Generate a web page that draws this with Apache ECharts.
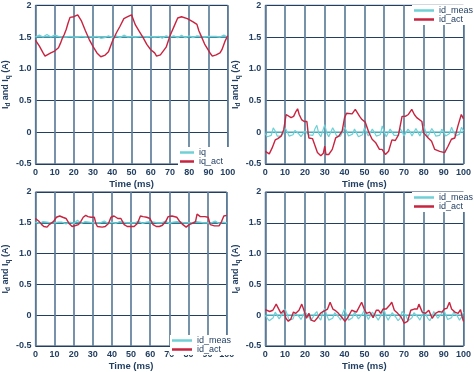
<!DOCTYPE html>
<html><head><meta charset="utf-8">
<script src="https://cdn.jsdelivr.net/npm/echarts@6/dist/echarts.min.js"></script>
<style>html,body{margin:0;padding:0;background:#fff}#c{width:474px;height:372px}</style>
</head><body><div id="c"></div>
<script>
// ---------- data ----------
const xTicks = [0,10,20,30,40,50,60,70,80,90,100];
const yTickLabels = {"-0.5":"-0.5","0":"0","0.5":"0.5","1":"1.0","1.5":"1.5","2":"2"};
const setpoints = [1.5, 0, 1.5, 0];
const legendNames = [["iq","iq_act"],["id_meas","id_act"],["id_meas","id_act"],["id_meas","id_act"]];

// panel 1 : iq (1 ms steps) and iq_act
const p1Meas = [
1.50,1.51,1.53,1.52,1.50,1.53,1.54,1.52,1.50,1.51,
1.53,1.53,1.51,1.49,1.50,1.52,1.50,1.49,1.51,1.52,
1.50,1.48,1.50,1.52,1.51,1.49,1.50,1.52,1.51,1.49,
1.50,1.52,1.51,1.49,1.48,1.47,1.49,1.51,1.52,1.50,
1.49,1.51,1.52,1.50,1.49,1.51,1.53,1.52,1.50,1.49,
1.51,1.52,1.50,1.49,1.51,1.53,1.51,1.49,1.50,1.52,
1.51,1.49,1.50,1.52,1.51,1.49,1.48,1.50,1.52,1.51,
1.50,1.51,1.52,1.50,1.49,1.51,1.53,1.51,1.49,1.50,
1.52,1.51,1.49,1.50,1.52,1.53,1.51,1.49,1.50,1.52,
1.51,1.50,1.51,1.53,1.51,1.49,1.50,1.52,1.53,1.51,
1.50];
const p1ActT = [0,2,4,5,6,8,10,12,13,14,15,16,17,18,19,20,21,22,23,24,26,28,30,32,34,35,36,37,38,40,42,44,46,48,50,51,52,54,56,58,60,61,62,63,64,65,66,68,70,72,74,75,76,79,82,84,85,86,88,90,91,92,93,94,96,97,98.7,100];
const p1ActV = [1.45,1.36,1.25,1.20,1.21,1.25,1.28,1.33,1.40,1.48,1.54,1.62,1.72,1.81,1.84,1.82,1.82,1.85,1.83,1.75,1.60,1.46,1.35,1.25,1.19,1.19,1.21,1.22,1.27,1.43,1.56,1.67,1.79,1.82,1.85,1.77,1.69,1.59,1.49,1.38,1.30,1.29,1.25,1.20,1.20,1.22,1.24,1.34,1.52,1.66,1.80,1.82,1.82,1.79,1.74,1.70,1.60,1.53,1.39,1.29,1.24,1.20,1.21,1.22,1.25,1.30,1.44,1.52];

// panel 2 : id_meas (1 ms steps) and id_act
const p2Meas = [
-0.02,-0.07,-0.08,-0.05,0.07,0.02,-0.06,-0.07,-0.06,-0.02,
0.07,0.01,-0.06,-0.07,-0.04,0.03,0.04,-0.03,-0.07,-0.06,
0.02,0.03,-0.04,-0.07,-0.05,0.05,0.11,-0.02,-0.07,-0.06,
0.12,-0.01,-0.07,-0.06,0.07,0.01,-0.06,-0.07,-0.06,-0.03,
0.08,0.02,-0.06,-0.07,-0.03,0.05,-0.01,-0.07,-0.07,-0.04,
0.07,0.00,-0.06,-0.06,0.05,0.00,-0.06,-0.07,-0.04,0.10,
0.01,-0.07,-0.06,0.05,0.02,-0.05,-0.07,-0.05,0.06,0.01,
-0.06,-0.07,0.05,0.01,-0.06,-0.07,0.06,0.00,-0.06,-0.05,
0.10,0.00,-0.07,-0.06,0.06,0.01,-0.06,-0.07,-0.05,0.05,
0.01,-0.06,-0.07,-0.02,0.08,0.00,-0.06,-0.07,-0.03,0.08,
0.02];
const p2ActT = [0,2,3,3.4,4.3,5,6.3,8,9.3,10.5,11.3,13,14.3,15.5,16.3,17.1,18.3,19.6,21,21.6,22,23.8,24.6,26.3,28,29.3,30,30.6,32,33.8,35.5,37.1,38.8,40,41,42,43.8,45.4,46.3,47.6,48.8,50.4,51.4,52.2,53.9,55.6,57.6,58.9,60.6,62.2,63.9,65.6,67.2,69,70.6,72.2,73.9,75.2,76.4,79,79.9,82.2,83.9,85.5,88,90.5,92.2,93.9,95.6,97.2,98.9,100];
const p2ActV = [-0.30,-0.34,-0.36,-0.25,-0.22,-0.12,-0.10,-0.06,0.04,0.28,0.28,0.23,0.25,0.33,0.37,0.28,0.20,0.17,0.17,-0.01,-0.09,-0.10,-0.17,-0.32,-0.37,-0.33,-0.22,-0.35,-0.35,-0.27,-0.09,-0.06,0.02,0.23,0.30,0.28,0.29,0.36,0.36,0.25,0.20,0.16,0.15,0.00,-0.11,-0.16,-0.27,-0.27,-0.35,-0.30,-0.12,-0.13,-0.04,0.25,0.25,0.28,0.36,0.28,0.23,0.17,-0.01,-0.09,-0.14,-0.27,-0.30,-0.32,-0.22,-0.11,-0.09,0.10,0.28,0.21];

// panel 3 : id_meas (1 ms steps) and id_act
const p3Meas = [
1.51,1.50,1.49,1.50,1.52,1.53,1.51,1.49,1.50,1.51,
1.50,1.49,1.51,1.53,1.51,1.49,1.48,1.50,1.51,1.50,
1.49,1.52,1.54,1.51,1.49,1.50,1.52,1.54,1.51,1.49,
1.50,1.51,1.50,1.49,1.50,1.52,1.53,1.51,1.49,1.50,
1.51,1.50,1.49,1.50,1.52,1.53,1.51,1.49,1.50,1.51,
1.50,1.49,1.50,1.52,1.53,1.51,1.49,1.50,1.51,1.50,
1.52,1.53,1.51,1.49,1.50,1.51,1.50,1.52,1.53,1.51,
1.49,1.50,1.51,1.50,1.52,1.53,1.51,1.49,1.50,1.51,
1.50,1.49,1.50,1.51,1.52,1.53,1.51,1.49,1.50,1.51,
1.50,1.49,1.50,1.52,1.53,1.51,1.49,1.50,1.51,1.50,
1.50];
const p3ActT = [0,2,3.3,4.4,5.3,6.1,7.2,8.2,9.4,11,12.7,14.3,16,17.6,19.2,20.1,21.4,22.5,23.7,25,26.3,27.5,29.1,30.8,31.6,32.4,34.9,36.5,38.2,39.5,41.1,43.1,44.7,46.4,48,49.7,51.6,53.3,54.9,56.3,58.2,59.9,61.5,63.2,64.8,66.4,68.1,69.4,71.4,72.4,73.9,75.5,77.1,78.8,80.4,82,83.7,84.5,86.2,88.6,90.3,91.4,93.6,96,97.3,98.5,100];
const p3ActV = [1.57,1.52,1.47,1.44,1.46,1.43,1.47,1.44,1.52,1.59,1.61,1.59,1.57,1.49,1.44,1.43,1.46,1.47,1.52,1.59,1.62,1.60,1.59,1.59,1.49,1.44,1.43,1.44,1.49,1.59,1.61,1.57,1.57,1.47,1.44,1.44,1.44,1.49,1.61,1.60,1.59,1.57,1.47,1.44,1.44,1.46,1.52,1.60,1.61,1.62,1.59,1.52,1.47,1.43,1.47,1.49,1.52,1.64,1.60,1.60,1.59,1.47,1.45,1.45,1.52,1.61,1.62];

// panel 4 : id_meas (1 ms steps) and id_act
const p4Meas = [
0.00,-0.05,-0.09,-0.10,-0.04,0.05,0.02,-0.06,-0.05,0.04,
0.10,0.02,-0.08,-0.10,-0.06,0.03,0.05,-0.02,-0.07,-0.04,
0.06,0.08,-0.03,-0.09,-0.07,0.02,0.06,-0.04,-0.08,0.05,
0.11,0.00,-0.08,-0.09,-0.05,0.04,0.06,-0.03,-0.08,0.03,
0.10,0.01,-0.08,-0.09,-0.04,0.05,0.03,-0.06,-0.07,0.02,
0.09,0.00,-0.07,-0.09,0.05,0.07,-0.03,-0.08,-0.06,0.04,
0.08,-0.02,-0.08,-0.07,0.04,0.06,-0.04,-0.09,-0.05,0.06,
0.09,-0.01,-0.09,-0.10,-0.04,0.04,0.06,-0.03,-0.08,-0.05,
0.07,0.05,-0.05,-0.09,-0.03,0.06,0.04,-0.05,-0.08,0.03,
0.09,0.01,-0.07,-0.09,-0.04,0.05,0.06,-0.02,-0.08,-0.03,
0.05];
const p4ActT = [0,2.2,3.8,5.5,6.6,7.9,9.3,10.4,11.6,12.9,14.2,15.4,17,18.4,19.5,20.8,22,23.2,24.8,26.1,27.8,29.1,30.3,31.4,32.7,34.1,35.2,36.9,38.5,40.2,41.8,43.6,44.6,46,47,48.6,49.9,51.1,52.7,54.4,56,57.2,58.2,59.4,61,62.7,63.8,65.1,66.8,68.5,70.1,71.8,73.4,75.1,76.7,77.5,79.2,80.9,82.5,84.2,85.9,87.5,89.2,90.3,91.6,92.9,94,95.7,97.3,98.5,99.5,100];
const p4ActV = [0.09,0.06,0.08,0.18,0.11,0.03,0.08,-0.05,-0.10,-0.06,0.05,0.03,0.08,0.18,0.08,-0.05,0.03,-0.08,-0.10,-0.05,0.03,0.06,0.08,0.10,0.21,0.10,0.08,0.03,-0.03,-0.10,-0.03,0.08,0.11,0.05,0.11,0.21,0.10,0.03,0.05,-0.04,0.08,0.08,0.03,0.10,0.10,0.16,0.21,0.08,0.03,-0.03,-0.13,-0.10,0.08,0.10,0.10,0.18,0.05,0.03,0.08,-0.05,0.03,0.06,0.05,0.10,0.11,0.21,0.10,0.05,0.03,0.09,-0.05,-0.10];

// ---------- chart ----------
const meas = [p1Meas, p2Meas, p3Meas, p4Meas];
const actT = [p1ActT, p2ActT, p3ActT, p4ActT];
const actV = [p1ActV, p2ActV, p3ActV, p4ActV];

const NAVY = '#223f62';
const VGRID = '#5f7f9b';
const CYAN = '#6fd0d6';
const REF = '#49a9b8';
const RED = '#c8233f';
const FONT = 'Liberation Sans, Arial, sans-serif';

const grids = [
  {left:25.7, right:246.3, top:5.3, bottom:208},
  {left:265.3, right:8.3, top:5.3, bottom:208},
  {left:24, right:247.3, top:192, bottom:20.3},
  {left:265.3, right:7, top:192, bottom:20}
];
const legendPos = [
  {left:178, top:147, w:14},
  {left:412, top:5, w:20},
  {left:170, top:335, w:20},
  {left:412, top:192, w:20}
];

const option = {
  animation:false,
  backgroundColor:'#fff',
  grid: grids.map(g => Object.assign({show:true, borderColor:NAVY, borderWidth:1, backgroundColor:'transparent'}, g)),
  xAxis: grids.map((g,i) => ({
    type:'value', gridIndex:i, min:xTicks[0], max:xTicks[xTicks.length-1], interval:10,
    name:'Time (ms)', nameLocation:'middle', nameGap:15,
    nameTextStyle:{fontFamily:FONT, fontSize:9.5, fontWeight:'bold', color:NAVY},
    axisLine:{show:false}, axisTick:{show:false},
    axisLabel:{fontFamily:FONT, fontSize:9, fontWeight:'bold', color:NAVY, margin:4},
    splitLine:{show:true, lineStyle:{color:VGRID, width:1.7}}
  })),
  yAxis: grids.map((g,i) => ({
    type:'value', gridIndex:i, min:-0.5, max:2, interval:0.5,
    name:'{b|I}{s|d}{b| and I}{s|q}{b| (A)}', nameLocation:'middle', nameGap:16, nameRotate:90,
    nameTextStyle:{rich:{
      b:{fontFamily:FONT, fontSize:9, fontWeight:'bold', color:NAVY, lineHeight:12, verticalAlign:'bottom'},
      s:{fontFamily:FONT, fontSize:6.5, fontWeight:'bold', color:NAVY, lineHeight:12, verticalAlign:'bottom', padding:[0,0,-2,0]}
    }},
    axisLine:{show:false}, axisTick:{show:false},
    axisLabel:{fontFamily:FONT, fontSize:9, fontWeight:'bold', color:NAVY, margin:4,
      formatter: v => yTickLabels[String(v)] ?? String(v)},
    splitLine:{show:true, lineStyle:{color:NAVY, width:1}}
  })),
  legend: legendPos.map((p,i) => ({
    left:p.left, top:p.top, orient:'vertical', data:legendNames[i],
    icon:'rect', itemWidth:p.w, itemHeight:2.5, itemGap:0,
    backgroundColor:'#fff', padding:[1,6,1,2],
    textStyle:{fontFamily:FONT, fontSize:9, color:NAVY, lineHeight:8, padding:[0,0,0,0]}
  })),
  series: []
};

for (let i = 0; i < 4; i++) {
  option.series.push({
    type:'line', name:'ref'+i, xAxisIndex:i, yAxisIndex:i, symbol:'none', silent:true,
    data:[[xTicks[0], setpoints[i]], [xTicks[xTicks.length-1], setpoints[i]]],
    lineStyle:{color:REF, width:1.6}, itemStyle:{color:REF}
  });
  option.series.push({
    type:'line', name:legendNames[i][0], xAxisIndex:i, yAxisIndex:i, symbol:'none',
    data: meas[i].map((v,k) => [k, v]),
    lineStyle:{color:CYAN, width:1.2}, itemStyle:{color:CYAN}
  });
  option.series.push({
    type:'line', name:legendNames[i][1], xAxisIndex:i, yAxisIndex:i, symbol:'none',
    data: actT[i].map((t,k) => [t, actV[i][k]]),
    lineStyle:{color:RED, width:1.4}, itemStyle:{color:RED}
  });
}

const chart = echarts.init(document.getElementById('c'), null, {renderer:'canvas'});
chart.setOption(option);
</script></body></html>
